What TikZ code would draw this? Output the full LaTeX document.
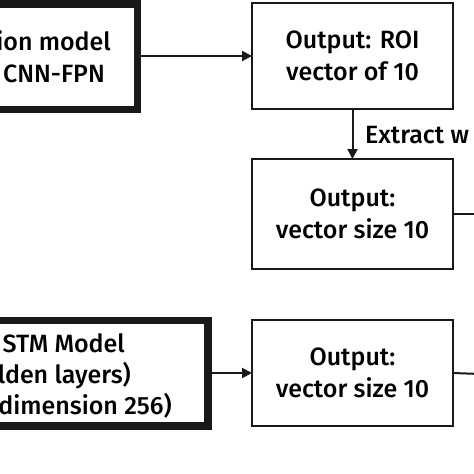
\documentclass[tikz,border=0pt]{standalone}
\usepackage{fontspec}
\setmainfont{Fira Sans Medium}
\usetikzlibrary{arrows.meta}
\begin{document}
\begin{tikzpicture}[x=1pt,y=1pt,
  thinbox/.style={draw=black!90, line width=2.6pt, minimum width=201pt, minimum height=106pt, inner sep=0pt, outer sep=0pt, align=center, font=\fontsize{25}{32}\selectfont},
  thickbox/.style={draw=black!90, line width=7.5pt, inner sep=0pt, outer sep=0pt},
  lbl/.style={inner sep=0pt, font=\fontsize{25}{32}\selectfont},
  conn/.style={line width=2pt, draw=black!90},
  arr/.style={conn, -{Triangle[length=10pt,width=10pt]}}]
\useasboundingbox (0,0) rectangle (474,-474);
\clip (0,0) rectangle (474,-474);
\fill[white] (0,0) rectangle (474,-474);
% left boxes (partially cropped)
\node[thickbox, minimum width=200pt, minimum height=105.5pt] (det) at (37.5,-56.75) {};
\node[thickbox, minimum width=270pt, minimum height=105.5pt] (lstm) at (73,-373.25) {};
% right boxes
\node[thinbox] (roi) at (352.5,-56) {Output: ROI\\vector of 10};
\node[thinbox, minimum height=110pt] (vec1) at (352.5,-214) {Output:\\vector size 10};
\node[thinbox] (vec2) at (352.5,-373) {Output:\\vector size 10};
% texts in cropped boxes
\node[lbl, anchor=base east] (t1) at (111,-50) {ion model};
\node[lbl, anchor=base east] (t2) at (105,-82) {CNN-FPN};
\node[lbl, anchor=base east] (t3) at (125,-352) {STM Model};
\node[lbl, anchor=base east] (t4) at (131,-383) {lden layers)};
\node[lbl, anchor=base east] (t5) at (172,-414) {dimension 256)};
% free ends
\coordinate (e1) at (480,-214);
\coordinate (e2) at (480,-374);
% connectors
\draw[arr] (det.east |- roi.west) -- (roi.west);
\draw[arr] (roi.south) -- (vec1.north);
\node[lbl, anchor=base west] (ex) at (365,-143) {Extract w};
\draw[conn] (vec1.east) -- (e1);
\draw[arr] (lstm.east |- vec2.west) -- (vec2.west);
\draw[conn] (vec2.east) -- (e2);
\end{tikzpicture}
\end{document}
